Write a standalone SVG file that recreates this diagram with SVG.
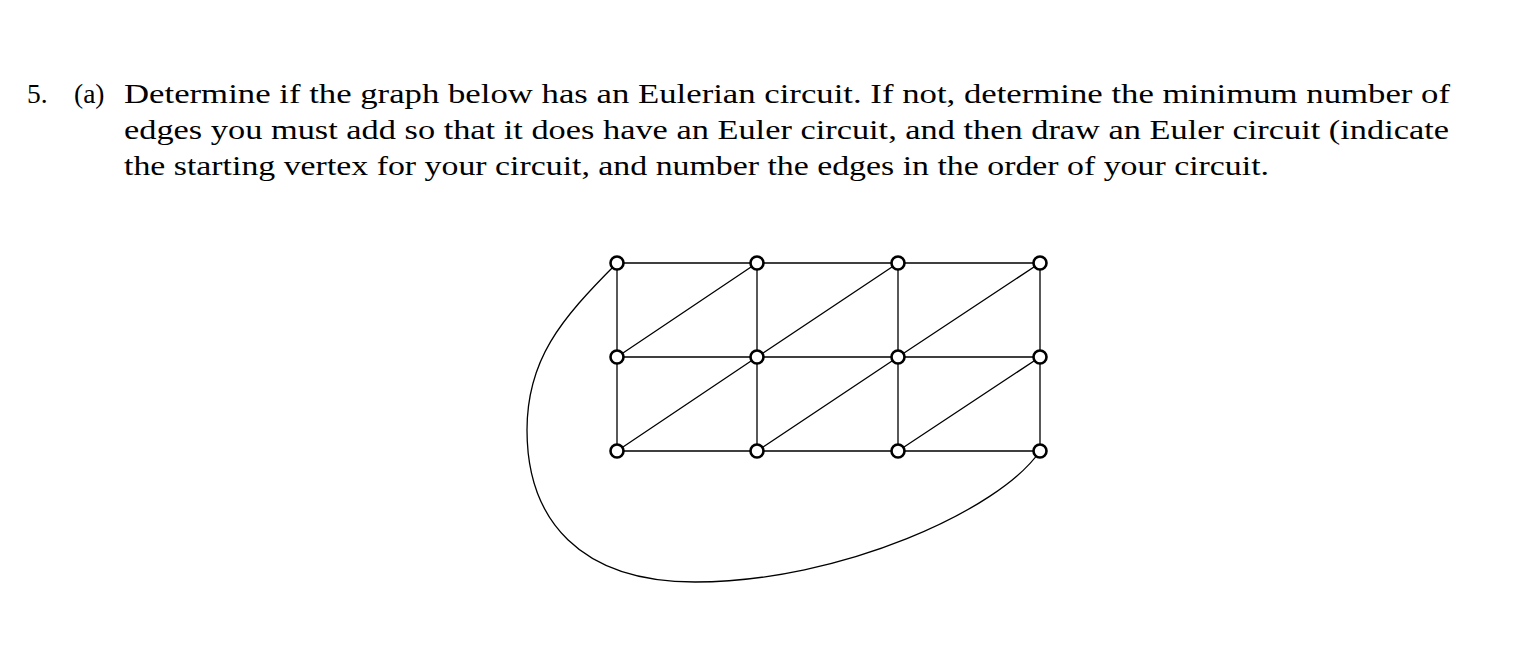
<svg xmlns="http://www.w3.org/2000/svg" width="1536" height="654" viewBox="0 0 1536 654">
<style>
text{font-family:"Liberation Serif","DejaVu Serif",serif;font-size:27.5px;fill:#000}
.e{stroke:#000;stroke-width:1.3;fill:none}
.n{fill:#fff;stroke:#000;stroke-width:2.6}
</style>
<rect width="1536" height="654" fill="#fff"/>
<text x="27" y="103">5.</text>
<text x="74" y="103">(a)</text>
<text x="124" y="103" textLength="1326" lengthAdjust="spacingAndGlyphs">Determine if the graph below has an Eulerian circuit.  If not, determine the minimum number of</text>
<text x="124" y="139" textLength="1325" lengthAdjust="spacingAndGlyphs">edges you must add so that it does have an Euler circuit, and then draw an Euler circuit (indicate</text>
<text x="124" y="175" textLength="1145" lengthAdjust="spacingAndGlyphs">the starting vertex for your circuit, and number the edges in the order of your circuit.</text>
<g id="edges">
<path class="e" d="M617 263H1040M617 357H1040M617 451H1040M617 263V451M757 263V451M898 263V451M1040 263V451"/>
<path class="e" d="M617 357L757 263M757 357L898 263M898 357L1040 263M617 451L757 357M757 451L898 357M898 451L1040 357"/>
<path class="e" d="M617 263C560 320 527 360 527 430C527 520 580 582 695 582C840 582 1000 510 1040 451"/>
</g>
<g id="n1"><circle class="n" cx="617" cy="263" r="6.5"/></g>
<g id="n2"><circle class="n" cx="757" cy="263" r="6.5"/></g>
<g id="n3"><circle class="n" cx="898" cy="263" r="6.5"/></g>
<g id="n4"><circle class="n" cx="1040" cy="263" r="6.5"/></g>
<g id="n5"><circle class="n" cx="617" cy="357" r="6.5"/></g>
<g id="n6"><circle class="n" cx="757" cy="357" r="6.5"/></g>
<g id="n7"><circle class="n" cx="898" cy="357" r="6.5"/></g>
<g id="n8"><circle class="n" cx="1040" cy="357" r="6.5"/></g>
<g id="n9"><circle class="n" cx="617" cy="451" r="6.5"/></g>
<g id="n10"><circle class="n" cx="757" cy="451" r="6.5"/></g>
<g id="n11"><circle class="n" cx="898" cy="451" r="6.5"/></g>
<g id="n12"><circle class="n" cx="1040" cy="451" r="6.5"/></g>
</svg>
